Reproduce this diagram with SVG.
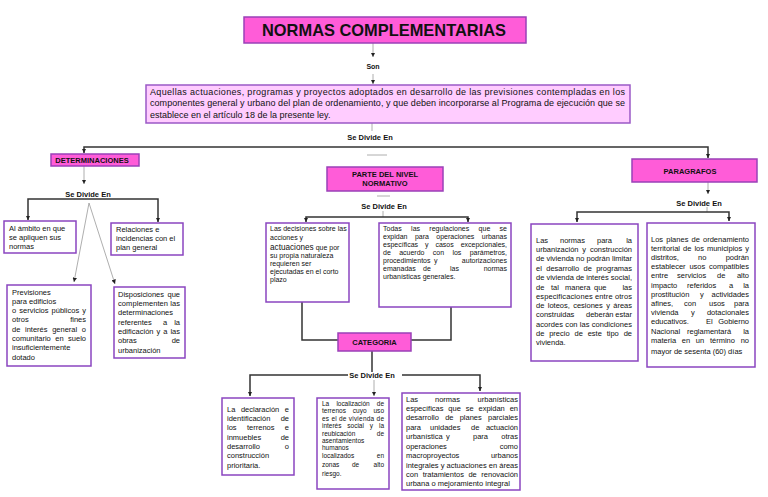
<svg xmlns="http://www.w3.org/2000/svg" width="768" height="497" viewBox="0 0 768 497">
<defs>
<marker id="ah" viewBox="0 0 6 6" refX="6" refY="3" markerWidth="4.5" markerHeight="4.5" markerUnits="userSpaceOnUse" orient="auto"><path d="M0,0 L6,3 L0,6z" fill="#222"/></marker>
<style>
text{font-family:"Liberation Sans",Arial,sans-serif;fill:#111}
.t{font-size:7.5px}
.r{font-size:7px}
.s{font-size:6.5px}
.c{font-size:7px}
.h{font-weight:bold;font-size:7.5px;text-anchor:middle}
.e{text-anchor:end}
.m{text-anchor:middle}
.box{fill:#fff;stroke:#8a45c0;stroke-width:1.5}
.mag{fill:#ff5cd8;stroke:#9a40b8;stroke-width:1.5}
.ln{stroke:#333;stroke-width:1.5;fill:none}
.gl{stroke:#999;stroke-width:0.8;fill:none}
</style>
</defs>
<rect width="768" height="497" fill="#fff"/>

<g id="connectors">
<line class="gl" x1="373" y1="43" x2="373" y2="57" marker-end="url(#ah)"/>
<line class="gl" x1="373" y1="74" x2="373" y2="84" marker-end="url(#ah)"/>
<line class="gl" x1="372" y1="123" x2="372" y2="131"/>
<path class="ln" d="M372,147 H84 V153" marker-end="url(#ah)"/>
<path class="ln" d="M372,147 H708 V158" marker-end="url(#ah)"/>
<line class="gl" x1="367" y1="155" x2="387" y2="155"/>
<line class="gl" x1="377" y1="196" x2="390" y2="196"/>
<line class="gl" x1="84" y1="166" x2="84" y2="184" marker-end="url(#ah)"/>
<path class="ln" d="M88,199 H28 V220" marker-end="url(#ah)"/>
<path class="ln" d="M88,199 H158 V222" marker-end="url(#ah)"/>
<line class="gl" x1="89" y1="203" x2="74" y2="282" marker-end="url(#ah)"/>
<line class="gl" x1="89" y1="203" x2="115" y2="284" marker-end="url(#ah)"/>
<line class="gl" x1="383" y1="211" x2="383" y2="217"/>
<path class="ln" d="M384,217 H306 V222" marker-end="url(#ah)"/>
<path class="ln" d="M384,217 H468 V222" marker-end="url(#ah)"/>
<path class="ln" d="M302,302 V340 H338"/>
<path class="ln" d="M451,307 V340 H411"/>
<line class="ln" x1="372" y1="351" x2="372" y2="372"/>
<path class="ln" d="M348,375 H250 V396" marker-end="url(#ah)"/>
<path class="ln" d="M402,375 H480 V391" marker-end="url(#ah)"/>
<line class="gl" x1="374" y1="380" x2="374" y2="396" marker-end="url(#ah)"/>
<line class="gl" x1="708" y1="182" x2="708" y2="194" marker-end="url(#ah)"/>
<line class="gl" x1="707" y1="207" x2="707" y2="212"/>
<path class="ln" d="M699,212 H577 V222" marker-end="url(#ah)"/>
<path class="ln" d="M699,212 H729 V221" marker-end="url(#ah)"/>
<text x="373" y="68.5" class="c m" font-weight="bold">Son</text>
<text x="370" y="139.5" class="h">Se Divide En</text>
<text x="88" y="197" class="h">Se Divide En</text>
<text x="384" y="209" class="h">Se Divide En</text>
<text x="372" y="377.5" class="h">Se Divide En</text>
<text x="699" y="205.5" class="h">Se Divide En</text>
</g>

<g id="title">
<rect x="244" y="17" width="282" height="26" class="mag" fill="#ff66f0"/>
<text x="384" y="36" font-size="17" font-weight="bold" text-anchor="middle" textLength="244" lengthAdjust="spacingAndGlyphs">NORMAS COMPLEMENTARIAS</text>
</g>

<g id="definicion">
<rect x="146" y="85" width="484" height="38" fill="#ffccff" stroke="#9b59c6" stroke-width="1.5"/>
<text x="150" y="95" font-size="9" textLength="475">Aquellas actuaciones, programas y proyectos adoptados en desarrollo de las previsiones contempladas en los</text>
<text x="150" y="106" font-size="9" textLength="475">componentes general y urbano del plan de ordenamiento, y que deben incorporarse al Programa de ejecución que se</text>
<text x="150" y="118" font-size="9">establece en el artículo 18 de la presente ley.</text>
</g>

<g id="determinaciones">
<rect x="51" y="154" width="88" height="12" class="mag"/>
<text x="92" y="163" class="h" font-size="7">DETERMINACIONES</text>
</g>

<g id="ambito">
<rect x="4" y="221" width="72" height="32" class="box"/>
<text class="t" x="9" y="231">Al ámbito en que</text>
<text class="t" x="9" y="240">se apliquen sus</text>
<text class="t" x="9" y="249">normas</text>
</g>

<g id="relaciones">
<rect x="111" y="223" width="72" height="32" class="box"/>
<text class="t" x="116" y="232">Relaciones e</text>
<text class="t" x="116" y="241">incidencias con el</text>
<text class="t" x="116" y="250">plan general</text>
</g>

<g id="previsiones">
<rect x="7" y="285" width="84" height="81" class="box"/>
<text class="t" x="12" y="295">Previsiones</text>
<text class="t" x="12" y="304">para edificios</text>
<text class="t" x="12" y="313" style="word-spacing:1px" textLength="74">o servicios públicos y</text>
<text class="t" x="12" y="322">otros</text><text class="t e" x="86" y="322">fines</text>
<text class="t" x="12" y="332" style="word-spacing:2.6px" textLength="74">de interés general o</text>
<text class="t" x="12" y="341" style="word-spacing:2.4px" textLength="74">comunitario en suelo</text>
<text class="t" x="12" y="350">insuficientemente</text>
<text class="t" x="12" y="360">dotado</text>
</g>

<g id="disposiciones">
<rect x="114" y="287" width="71" height="71" class="box"/>
<text class="t" x="118" y="297" style="word-spacing:1.6px" textLength="62">Disposiciones que</text>
<text class="t" x="118" y="306" textLength="62">complementen las</text>
<text class="t" x="118" y="315">determinaciones</text>
<text class="t" x="118" y="325">referentes</text><text class="t" x="163" y="325">a</text><text class="t e" x="180" y="325">la</text>
<text class="t" x="118" y="334" style="word-spacing:0.9px" textLength="62">edificación y a las</text>
<text class="t" x="118" y="343">obras</text><text class="t e" x="180" y="343">de</text>
<text class="t" x="118" y="353">urbanización</text>
</g>

<g id="parte-nivel">
<rect x="327" y="167" width="116" height="24" class="mag"/>
<text x="385" y="176.5" class="h">PARTE DEL NIVEL</text>
<text x="385" y="186" class="h">NORMATIVO</text>
</g>

<g id="decisiones">
<rect x="266" y="223" width="83" height="79" class="box"/>
<text class="c" x="270" y="230.5">Las decisiones sobre las</text>
<text class="c" x="270" y="239.5">acciones y</text>
<text class="c" x="270" y="249.5"><tspan font-size="8.2">actuaciones</tspan> que por</text>
<text class="c" x="270" y="257.5">su propia naturaleza</text>
<text class="c" x="270" y="265.5">requieren ser</text>
<text class="c" x="270" y="273.5">ejecutadas en el corto</text>
<text class="c" x="270" y="281.5">plazo</text>
</g>

<g id="regulaciones">
<rect x="379" y="223" width="132" height="84" class="box"/>
<text class="r" x="383" y="231" style="word-spacing:7.3px" textLength="124">Todas las regulaciones que se</text>
<text class="r" x="383" y="239" style="word-spacing:5.5px" textLength="124">expidan para operaciones urbanas</text>
<text class="r" x="383" y="247" style="word-spacing:5px" textLength="124">específicas y casos excepcionales,</text>
<text class="r" x="383" y="255" style="word-spacing:6.4px" textLength="124">de acuerdo con los parámetros,</text>
<text class="r" x="383" y="263">procedimientos</text><text class="r" x="434" y="263">y</text><text class="r e" x="507" y="263">autorizaciones</text>
<text class="r" x="383" y="271">emanadas</text><text class="r" x="423" y="271">de</text><text class="r" x="450" y="271">las</text><text class="r e" x="507" y="271">normas</text>
<text class="r" x="383" y="279">urbanísticas generales.</text>
</g>

<g id="categoria">
<rect x="338" y="333" width="73" height="18" class="mag"/>
<text x="374.5" y="344.5" class="h">CATEGORIA</text>
</g>

<g id="declaracion">
<rect x="222" y="398" width="72" height="77" class="box"/>
<text class="t" x="227" y="412" style="word-spacing:3.5px" textLength="62">La declaración e</text>
<text class="t" x="227" y="421">identificación</text><text class="t e" x="289" y="421">de</text>
<text class="t" x="227" y="430">los</text><text class="t" x="247" y="430">terrenos</text><text class="t e" x="289" y="430">e</text>
<text class="t" x="227" y="440">inmuebles</text><text class="t e" x="289" y="440">de</text>
<text class="t" x="227" y="449">desarrollo</text><text class="t e" x="289" y="449">o</text>
<text class="t" x="227" y="458">construcción</text>
<text class="t" x="227" y="468">prioritaria.</text>
</g>

<g id="localizacion">
<rect x="317" y="398" width="72" height="91" class="box"/>
<text class="s" x="322" y="405.5" style="word-spacing:5.5px" textLength="62">La localización de</text>
<text class="s" x="322" y="413" style="word-spacing:5.1px" textLength="62">terrenos cuyo uso</text>
<text class="s" x="322" y="420.5" textLength="62">es el de vivienda de</text>
<text class="s" x="322" y="428.3" style="word-spacing:4.1px" textLength="62">interés social y la</text>
<text class="s" x="322" y="435.6">reubicación</text><text class="s e" x="384" y="435.6">de</text>
<text class="s" x="322" y="442.8">asentamientos</text>
<text class="s" x="322" y="450.3">humanos</text>
<text class="s" x="322" y="458.3">localizados</text><text class="s e" x="384" y="458.3">en</text>
<text class="s" x="322" y="467.3">zonas</text><text class="s" x="352" y="467.3">de</text><text class="s e" x="384" y="467.3">alto</text>
<text class="s" x="322" y="476.3">riesgo.</text>
</g>

<g id="normas-urbanisticas">
<rect x="402" y="393" width="118" height="97" class="box"/>
<text class="t" x="406" y="401.5">Las</text><text class="t" x="435" y="401.5">normas</text><text class="t e" x="518" y="401.5">urbanísticas</text>
<text class="t" x="406" y="411" style="word-spacing:2.8px" textLength="112">específicas que se expidan en</text>
<text class="t" x="406" y="420" style="word-spacing:4.1px" textLength="112">desarrollo de planes parciales</text>
<text class="t" x="406" y="430">para</text><text class="t" x="430" y="430">unidades</text><text class="t" x="471" y="430">de</text><text class="t e" x="518" y="430">actuación</text>
<text class="t" x="406" y="439">urbanística</text><text class="t" x="446" y="439">y</text><text class="t" x="473" y="439">para</text><text class="t e" x="518" y="439">otras</text>
<text class="t" x="406" y="448.5">operaciones</text><text class="t e" x="518" y="448.5">como</text>
<text class="t" x="406" y="458">macroproyectos</text><text class="t e" x="518" y="458">urbanos</text>
<text class="t" x="406" y="467.5" textLength="112">integrales y actuaciones en áreas</text>
<text class="t" x="406" y="477" style="word-spacing:2.5px" textLength="112">con tratamientos de renovación</text>
<text class="t" x="406" y="486">urbana o mejoramiento integral</text>
</g>

<g id="paragrafos">
<rect x="632" y="159" width="125" height="23" class="mag"/>
<text x="690" y="173.5" class="h">PARAGRAFOS</text>
</g>

<g id="normas-vivienda">
<rect x="531" y="224" width="107" height="137" class="box"/>
<text class="t" x="536" y="242.5">Las</text><text class="t" x="560" y="242.5">normas</text><text class="t" x="597" y="242.5">para</text><text class="t e" x="632" y="242.5">la</text>
<text class="t" x="536" y="251.5" style="word-spacing:1.7px" textLength="96">urbanización y construcción</text>
<text class="t" x="536" y="261" textLength="96">de vivienda no podrán limitar</text>
<text class="t" x="536" y="270.5" style="word-spacing:2.3px" textLength="96">el desarrollo de programas</text>
<text class="t" x="536" y="280" textLength="96">de vivienda de interés social,</text>
<text class="t" x="536" y="289.5">de</text><text class="t" x="551" y="289.5">tal</text><text class="t" x="565" y="289.5">manera</text><text class="t" x="594" y="289.5">que</text><text class="t e" x="632" y="289.5">las</text>
<text class="t" x="536" y="298.5" textLength="96">especificaciones entre otros</text>
<text class="t" x="536" y="308" style="word-spacing:1.3px" textLength="96">de loteos, cesiones y áreas</text>
<text class="t" x="536" y="317">construidas</text><text class="t" x="586" y="317">deberán</text><text class="t e" x="632" y="317">estar</text>
<text class="t" x="536" y="326.5" textLength="96">acordes con las condiciones</text>
<text class="t" x="536" y="336" style="word-spacing:2.8px" textLength="96">de precio de este tipo de</text>
<text class="t" x="536" y="345">vivienda.</text>
</g>

<g id="planes-ordenamiento">
<rect x="647" y="223" width="108" height="144" class="box"/>
<text class="t" x="651" y="241.5" style="word-spacing:1px" textLength="98">Los planes de ordenamiento</text>
<text class="t" x="651" y="251" style="word-spacing:1px" textLength="98">territorial de los municipios y</text>
<text class="t" x="651" y="259.5">distritos,</text><text class="t" x="698" y="259.5">no</text><text class="t e" x="749" y="259.5">podrán</text>
<text class="t" x="651" y="269" style="word-spacing:1.7px" textLength="98">establecer usos compatibles</text>
<text class="t" x="651" y="278">entre</text><text class="t" x="677" y="278">servicios</text><text class="t" x="717" y="278">de</text><text class="t e" x="749" y="278">alto</text>
<text class="t" x="651" y="287.5">impacto</text><text class="t" x="687" y="287.5">referidos</text><text class="t" x="729" y="287.5">a</text><text class="t e" x="749" y="287.5">la</text>
<text class="t" x="651" y="297">prostitución</text><text class="t" x="700" y="297">y</text><text class="t e" x="749" y="297">actividades</text>
<text class="t" x="651" y="306">afines,</text><text class="t" x="684" y="306">con</text><text class="t" x="709" y="306">usos</text><text class="t e" x="749" y="306">para</text>
<text class="t" x="651" y="315">vivienda</text><text class="t" x="691" y="315">y</text><text class="t e" x="749" y="315">dotacionales</text>
<text class="t" x="651" y="324">educativos.</text><text class="t" x="706" y="324">El</text><text class="t e" x="749" y="324">Gobierno</text>
<text class="t" x="651" y="333.5">Nacional</text><text class="t" x="687" y="333.5">reglamentará</text><text class="t e" x="749" y="333.5">la</text>
<text class="t" x="651" y="342.5" style="word-spacing:3.6px" textLength="98">materia en un término no</text>
<text class="t" x="651" y="354">mayor de sesenta (60) días</text>
</g>
</svg>
